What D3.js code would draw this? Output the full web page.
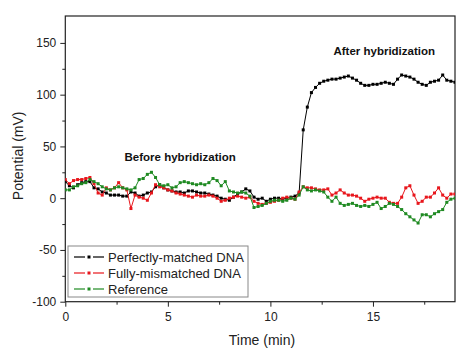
<!DOCTYPE html>
<html>
<head>
<meta charset="utf-8">
<script src="https://cdn.jsdelivr.net/npm/d3@7"></script>
<style>
  html, body { margin: 0; padding: 0; background: #fff; }
  svg { display: block; font-family: "Liberation Sans", Arial, sans-serif; }
</style>
</head>
<body>
<svg id="chart" width="474" height="355"></svg>
<script>
// ---- data (time in min, potential in mV) ----
const times = [
  0.0,0.2,0.4,0.6,0.8,1.0,1.2,1.4,1.6,1.8,
  2.0,2.2,2.4,2.6,2.8,3.0,3.2,3.4,3.6,3.8,
  4.0,4.2,4.4,4.6,4.8,5.0,5.2,5.4,5.6,5.8,
  6.0,6.2,6.4,6.6,6.8,7.0,7.2,7.4,7.6,7.8,
  8.0,8.2,8.4,8.6,8.8,9.0,9.2,9.4,9.6,9.8,
  10.0,10.2,10.4,10.6,10.8,11.0,11.2,11.4,11.6,11.8,
  12.0,12.2,12.4,12.6,12.8,13.0,13.2,13.4,13.6,13.8,
  14.0,14.2,14.4,14.6,14.8,15.0,15.2,15.4,15.6,15.8,
  16.0,16.2,16.4,16.6,16.8,17.0,17.2,17.4,17.6,17.8,
  18.0,18.2,18.4,18.6,18.8,19.0
];
const perfectlyMatched = [
  16,12,10,13,15,16,16,10,9,6,
  5,3,3,3,2,2,6,5,2,3,
  5,6,11,13,10,8,7,6,6,5,
  7,7,6,5,5,4,3,2,0,-1,
  -2,1,4,6,9,7,1,-1,0,-3,
  -1,0,0,-1,0,1,2,5,66,88,
  102,107,111,113,114,115,115,116,117,118,
  116,114,111,109,109,110,110,111,112,111,
  110,115,119,118,117,115,112,110,109,112,
  113,114,119,114,113,112
];
const fullyMismatched = [
  18,14,17,18,18,19,20,14,5,3,
  10,8,10,15,10,8,-10,3,1,0,
  -2,5,13,11,10,8,7,5,4,3,
  2,1,3,2,2,3,2,0,-3,-2,
  0,1,2,1,0,1,-3,-5,-6,-5,
  -4,-3,-2,0,1,0,-1,6,11,10,
  10,9,8,8,9,3,5,8,5,3,
  3,2,0,-3,-1,0,1,0,0,-4,
  -5,-5,1,10,12,3,-5,-3,1,1,
  5,10,3,0,4,4
];
const reference = [
  8,8,11,12,14,15,18,16,14,11,
  9,8,10,11,10,9,8,10,18,19,
  23,25,20,13,12,13,10,11,15,16,
  15,14,13,14,13,15,19,17,12,16,
  7,6,5,6,5,2,-9,-8,-7,-5,
  -3,-2,-2,-3,-2,0,-1,3,11,8,
  7,8,7,6,1,-3,1,-5,-7,-6,
  -5,-7,-8,-7,-8,-6,-4,-10,-8,-5,
  -6,-8,-11,-15,-18,-21,-24,-16,-16,-18,
  -15,-13,-11,-4,-1,0
];
const seriesNames = ["Perfectly-matched DNA", "Fully-mismatched DNA", "Reference"];
const seriesColors = ["#000000", "#e8161c", "#1f8a22"];
const xTicks = [0, 5, 10, 15];
const xMinorTicks = [2.5, 7.5, 12.5, 17.5];
const yTicks = [-100, -50, 0, 50, 100, 150];
const yMinorTicks = [-75, -25, 25, 75, 125];
const xTitle = "Time (min)";
const yTitle = "Potential (mV)";
const annotations = [
  { text: "Before hybridization", t: 5.6, v: 36 },
  { text: "After hybridization", t: 15.55, v: 138 }
];

// ---- layout ----
const svg = d3.select("#chart");
const plot = { left: 65.3, right: 455, top: 16, bottom: 301.7 };
const x = d3.scaleLinear().domain([0, 19]).range([plot.left, plot.right]);
const y = d3.scaleLinear().domain([-100, 176]).range([plot.bottom, plot.top]);
const fmt = d => String(d);

// axes
const xAxis = svg.append("g").attr("transform", `translate(0,${plot.bottom})`)
  .call(d3.axisBottom(x).tickValues(xTicks).tickSize(5).tickPadding(6).tickFormat(fmt));
const xMinor = svg.append("g").attr("transform", `translate(0,${plot.bottom})`)
  .call(d3.axisBottom(x).tickValues(xMinorTicks).tickSize(3).tickFormat(""));
const yAxis = svg.append("g").attr("transform", `translate(${plot.left},0)`)
  .call(d3.axisLeft(y).tickValues(yTicks).tickSize(5).tickPadding(4).tickFormat(fmt));
const yMinor = svg.append("g").attr("transform", `translate(${plot.left},0)`)
  .call(d3.axisLeft(y).tickValues(yMinorTicks).tickSize(3).tickFormat(""));
[xAxis, xMinor, yAxis, yMinor].forEach(g => {
  g.select(".domain").remove();
  g.selectAll("line").attr("stroke", "#222").attr("stroke-width", 1);
  g.selectAll("text").attr("font-size", 12).attr("fill", "#222")
    .attr("font-family", "'Liberation Sans', Arial, sans-serif");
});

// frame
svg.append("rect")
  .attr("x", plot.left).attr("y", plot.top)
  .attr("width", plot.right - plot.left).attr("height", plot.bottom - plot.top)
  .attr("fill", "none").attr("stroke", "#222").attr("stroke-width", 1.2);

// series
const allSeries = [perfectlyMatched, fullyMismatched, reference];
const line = d3.line().x(d => x(d[0])).y(d => y(d[1]));
svg.append("clipPath").attr("id", "clip").append("rect")
  .attr("x", plot.left).attr("y", plot.top)
  .attr("width", plot.right - plot.left).attr("height", plot.bottom - plot.top);
const ms = 3;
allSeries.forEach((vals, i) => {
  const pts = times.map((t, k) => [t, vals[k]]);
  const g = svg.append("g").attr("clip-path", "url(#clip)");
  g.append("path").datum(pts).attr("d", line)
    .attr("fill", "none").attr("stroke", seriesColors[i]).attr("stroke-width", 1);
  g.selectAll("rect").data(pts).join("rect")
    .attr("x", d => x(d[0]) - ms / 2).attr("y", d => y(d[1]) - ms / 2)
    .attr("width", ms).attr("height", ms).attr("fill", seriesColors[i]);
});

// annotations
annotations.forEach(a => {
  svg.append("text").attr("x", x(a.t)).attr("y", y(a.v))
    .attr("text-anchor", "middle").attr("font-size", 11.5).attr("font-weight", "bold")
    .attr("fill", "#111").text(a.text);
});

// axis titles
svg.append("text").attr("x", 262).attr("y", 345)
  .attr("text-anchor", "middle").attr("font-size", 14).attr("fill", "#222").text(xTitle);
svg.append("text").attr("transform", `translate(23,${(plot.top + plot.bottom) / 2 - 3}) rotate(-90)`)
  .attr("text-anchor", "middle").attr("font-size", 14).attr("fill", "#222").text(yTitle);

// legend
const lg = svg.append("g");
lg.append("rect").attr("x", 68).attr("y", 246).attr("width", 180).attr("height", 51)
  .attr("fill", "#fff").attr("stroke", "#888").attr("stroke-width", 1);
seriesNames.forEach((name, i) => {
  const yy = 257 + i * 16;
  lg.append("line").attr("x1", 74).attr("x2", 85).attr("y1", yy).attr("y2", yy)
    .attr("stroke", seriesColors[i]).attr("stroke-width", 1.2);
  lg.append("line").attr("x1", 93).attr("x2", 104).attr("y1", yy).attr("y2", yy)
    .attr("stroke", seriesColors[i]).attr("stroke-width", 1.2);
  lg.append("rect").attr("x", 89 - 1.5).attr("y", yy - 1.5).attr("width", 3).attr("height", 3)
    .attr("fill", seriesColors[i]);
  lg.append("text").attr("x", 108).attr("y", yy + 4.5).attr("font-size", 13)
    .attr("fill", "#222").text(name);
});
</script>
</body>
</html>
